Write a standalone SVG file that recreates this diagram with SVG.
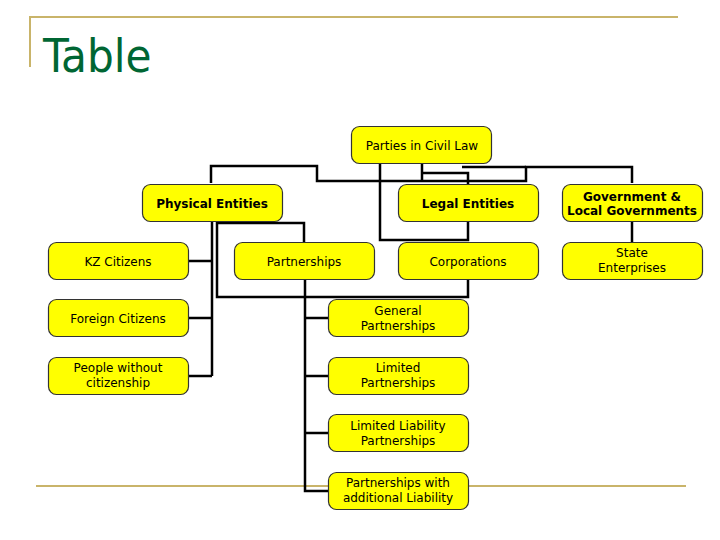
<svg xmlns="http://www.w3.org/2000/svg" width="720" height="540" viewBox="0 0 720 540">
<style>
.box{fill:#FFFF00;stroke:#333;stroke-width:1.2}
.t{font-family:'DejaVu Sans',Verdana,sans-serif;font-size:12px;fill:#000;text-anchor:middle}
.b{font-weight:bold}
.c{fill:none;stroke:#000;stroke-width:2.5}
.g{stroke:#C9B46A;stroke-width:2;fill:none}
</style>
<rect width="720" height="540" fill="#fff"/>
<g id="frame">
<path class="g" d="M30,67 V17 H678"/>
<path class="g" d="M36,486 H686"/>
</g>
<text id="title" x="43" y="72" font-family="'DejaVu Sans Condensed','DejaVu Sans',sans-serif" font-stretch="condensed" font-size="47" fill="#006633">Table</text>
<g id="connectors">
<path class="c" d="M211,183 V166 H317 V181 H526 V167 H632 V183"/>
<path class="c" d="M462,167 H526"/>
<path class="c" d="M422,164 V181"/>
<path class="c" d="M422,173 H468 V184"/>
<path class="c" d="M380,164 V240 H468 V222"/>
<path class="c" d="M212,222 V376"/>
<path class="c" d="M188,261 H212 M188,318 H212 M188,376 H212"/>
<path class="c" d="M217,222 V297 H468 V279"/>
<path class="c" d="M217,223 H304 V242"/>
<path class="c" d="M305,279 V491 H328"/>
<path class="c" d="M305,318 H328 M305,376 H328 M305,433 H328"/>
<path class="c" d="M632,222 V242"/>
</g>
<g id="parties"><rect class="box" x="351.5" y="126.5" width="140" height="37" rx="8"/><text class="t" x="422" y="149.5">Parties in Civil Law</text></g>
<g id="physical"><rect class="box" x="142.5" y="184.5" width="140" height="37" rx="8"/><text class="t b" x="212" y="207.5">Physical Entities</text></g>
<g id="legal"><rect class="box" x="398.5" y="184.5" width="140" height="37" rx="8"/><text class="t b" x="468" y="207.5">Legal Entities</text></g>
<g id="government"><rect class="box" x="562.5" y="184.5" width="140" height="37" rx="8"/><text class="t b" x="632" y="201">Government &amp;</text><text class="t b" x="632" y="215">Local Governments</text></g>
<g id="kz"><rect class="box" x="48.5" y="242.5" width="140" height="37" rx="8"/><text class="t" x="118" y="265.5">KZ Citizens</text></g>
<g id="foreign"><rect class="box" x="48.5" y="299.5" width="140" height="37" rx="8"/><text class="t" x="118" y="322.5">Foreign Citizens</text></g>
<g id="people"><rect class="box" x="48.5" y="357.5" width="140" height="37" rx="8"/><text class="t" x="118" y="372">People without</text><text class="t" x="118" y="387">citizenship</text></g>
<g id="partnerships"><rect class="box" x="234.5" y="242.5" width="140" height="37" rx="8"/><text class="t" x="304" y="265.5">Partnerships</text></g>
<g id="corporations"><rect class="box" x="398.5" y="242.5" width="140" height="37" rx="8"/><text class="t" x="468" y="265.5">Corporations</text></g>
<g id="state"><rect class="box" x="562.5" y="242.5" width="140" height="37" rx="8"/><text class="t" x="632" y="257">State</text><text class="t" x="632" y="272">Enterprises</text></g>
<g id="general"><rect class="box" x="328.5" y="299.5" width="140" height="37" rx="8"/><text class="t" x="398" y="315">General</text><text class="t" x="398" y="330">Partnerships</text></g>
<g id="limited"><rect class="box" x="328.5" y="357.5" width="140" height="37" rx="8"/><text class="t" x="398" y="372">Limited</text><text class="t" x="398" y="387">Partnerships</text></g>
<g id="llp"><rect class="box" x="328.5" y="414.5" width="140" height="37" rx="8"/><text class="t" x="398" y="430">Limited Liability</text><text class="t" x="398" y="445">Partnerships</text></g>
<g id="pal"><rect class="box" x="328.5" y="472.5" width="140" height="37" rx="8"/><text class="t" x="398" y="487">Partnerships with</text><text class="t" x="398" y="502">additional Liability</text></g>
</svg>
